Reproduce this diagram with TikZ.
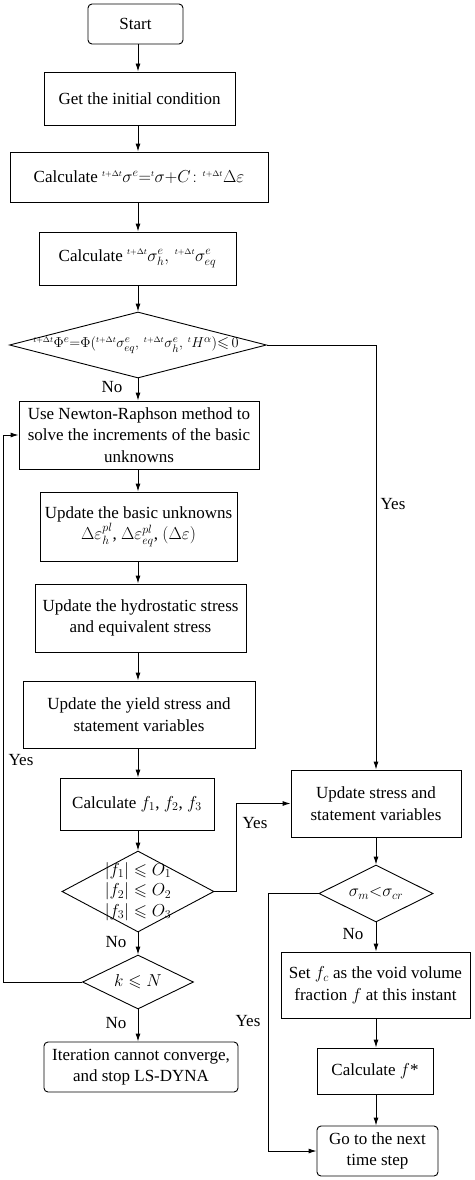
\documentclass[tikz,border=0pt]{standalone}
\usepackage{amsmath,amssymb}
\usepackage{fontspec}
\setmainfont{Liberation Serif}
\usetikzlibrary{shapes.geometric,arrows.meta,calc}
\newcommand\myfs{\fontsize{17}{21.5}\selectfont}
\newcommand\pre[1]{{}^{\scriptscriptstyle #1}}
\tikzset{
  base/.style={draw, line width=0.9pt, inner sep=0pt, align=center, font=\myfs},
  box/.style={base, rectangle},
  rbox/.style={base, rectangle, rounded corners=4pt},
  dia/.style={draw, line width=0.9pt, diamond, inner sep=0pt},
  txt/.style={inner sep=0pt, align=center, font=\myfs},
  arr/.style={line width=0.9pt, -{Latex[length=8pt,width=5pt]}},
  lbl/.style={inner sep=0pt, font=\myfs},
}
\begin{document}
\begin{tikzpicture}[x=1pt,y=-1pt]
\useasboundingbox[fill=white] (0,0) rectangle (474,1180);
\coordinate (L) at (138,0);
\coordinate (R) at (376,0);
% left column
\node[rbox, minimum width=95pt, minimum height=40pt] (start) at (135.5,24) {Start};
\node[box, minimum width=191pt, minimum height=53pt] (init) at (139.5,98.5) {Get the initial condition};
\node[box, minimum width=258pt, minimum height=50pt] (calc1) at (139,177)
  {Calculate $\pre{t+\Delta t}\sigma^{e}{=}\pre{t}\sigma{+}C\colon\pre{t+\Delta t}\Delta\varepsilon$};
\node[box, minimum width=197pt, minimum height=53pt] (calc2) at (137.5,258.5)
  {Calculate $\pre{t+\Delta t}\sigma^{e}_{h},\,\pre{t+\Delta t}\sigma^{e}_{eq}$};
\node[dia, minimum width=257pt, minimum height=66pt] (dia1) at (138,345) {};
\node[txt, font=\fontsize{15.5}{19}\selectfont] (dia1t) at ([xshift=-2pt]dia1.center)
  {$\pre{t+\Delta t}\Phi^{e}{=}\Phi(\pre{t+\Delta t}\sigma^{e}_{eq},\,\pre{t+\Delta t}\sigma^{e}_{h},\,\pre{t}H^{\alpha}){\leqslant}\,0$};
\node[box, minimum width=240pt, minimum height=68pt] (newton) at (139,435)
  {Use Newton-Raphson method to\\solve the increments of the basic\\unknowns};
\node[box, minimum width=197pt, minimum height=69pt] (upd1) at (138.5,526.5)
  {Update the basic unknowns\\$\Delta\varepsilon^{pl}_{h}$, $\Delta\varepsilon^{pl}_{eq}$, $(\Delta\varepsilon)$};
\node[box, minimum width=211pt, minimum height=68pt] (hydro) at (140.5,618)
  {Update the hydrostatic stress\\and equivalent stress};
\node[box, minimum width=232pt, minimum height=67pt] (yield) at (139,714.5)
  {Update the yield stress and\\statement variables};
\node[box, minimum width=154pt, minimum height=52pt] (calcf) at (137,804)
  {Calculate $f_1$, $f_2$, $f_3$};
\node[dia, minimum width=152pt, minimum height=81pt] (diaf) at (138,891.5) {};
\node[txt, font=\fontsize{17}{20.5}\selectfont] (diaft) at (diaf.center)
  {$|f_1|\leqslant O_1$\\$|f_2|\leqslant O_2$\\$|f_3|\leqslant O_3$};
\node[dia, minimum width=111pt, minimum height=54pt] (diak) at (138,982) {};
\node[txt] (diakt) at (diak.center) {$k\leqslant N$};
\node[rbox, minimum width=194pt, minimum height=50pt] (iter) at (141,1067)
  {Iteration cannot converge,\\and stop LS-DYNA};
% right column
\node[box, minimum width=170pt, minimum height=67pt] (upds) at (376,803.5)
  {Update stress and\\statement variables};
\node[dia, minimum width=114pt, minimum height=57pt] (dias) at (376,893.5) {};
\node[txt] (diast) at (dias.center) {$\sigma_m{<}\sigma_{cr}$};
\node[box, minimum width=189pt, minimum height=66pt] (setfc) at (375.5,985)
  {Set $f_c$ as the void volume\\fraction $f$ at this instant};
\node[box, minimum width=116pt, minimum height=46pt] (cfs) at (375,1071) {Calculate $f$*};
\node[rbox, minimum width=121pt, minimum height=50pt] (go) at (377.5,1151)
  {Go to the next\\time step};
% main vertical connectors
\draw[arr] (start.south -| L) -- (init.north -| L);
\draw[arr] (init.south -| L) -- (calc1.north -| L);
\draw[arr] (calc1.south -| L) -- (calc2.north -| L);
\draw[arr] (calc2.south -| L) -- (dia1.north);
\draw[arr] (dia1.south) -- (newton.north -| L);
\draw[arr] (newton.south -| L) -- (upd1.north -| L);
\draw[arr] (upd1.south -| L) -- (hydro.north -| L);
\draw[arr] (hydro.south -| L) -- (yield.north -| L);
\draw[arr] (yield.south -| L) -- (calcf.north -| L);
\draw[arr] (calcf.south -| L) -- (diaf.north);
\draw[arr] (diaf.south) -- (diak.north);
\draw[arr] (diak.south) -- (iter.north -| L);
% right vertical connectors
\draw[arr] (upds.south -| R) -- (dias.north);
\draw[arr] (dias.south) -- (setfc.north -| R);
\draw[arr] (setfc.south -| R) -- (cfs.north -| R);
\draw[arr] (cfs.south -| R) -- (go.north -| R);
% branches
\draw[arr] (dia1.east) -| (upds.north);
\draw[arr] (diaf.east) -- ++(22,0) |- (upds.west);
\draw[arr] (dias.west) -- ++(-50,0) |- (go.west);
\draw[arr] (diak.west) -| ([xshift=-15pt]newton.west) -- (newton.west);
% labels
\node[lbl] (no1) at (112,387) {No};
\node[lbl] (no2) at (116,942) {No};
\node[lbl] (no3) at (116,1023) {No};
\node[lbl] (no4) at (353,934) {No};
\node[lbl] (yes1) at (393,504) {Yes};
\node[lbl] (yes2) at (21,760) {Yes};
\node[lbl] (yes3) at (255,823) {Yes};
\node[lbl] (yes4) at (248,1021) {Yes};
\end{tikzpicture}
\end{document}
